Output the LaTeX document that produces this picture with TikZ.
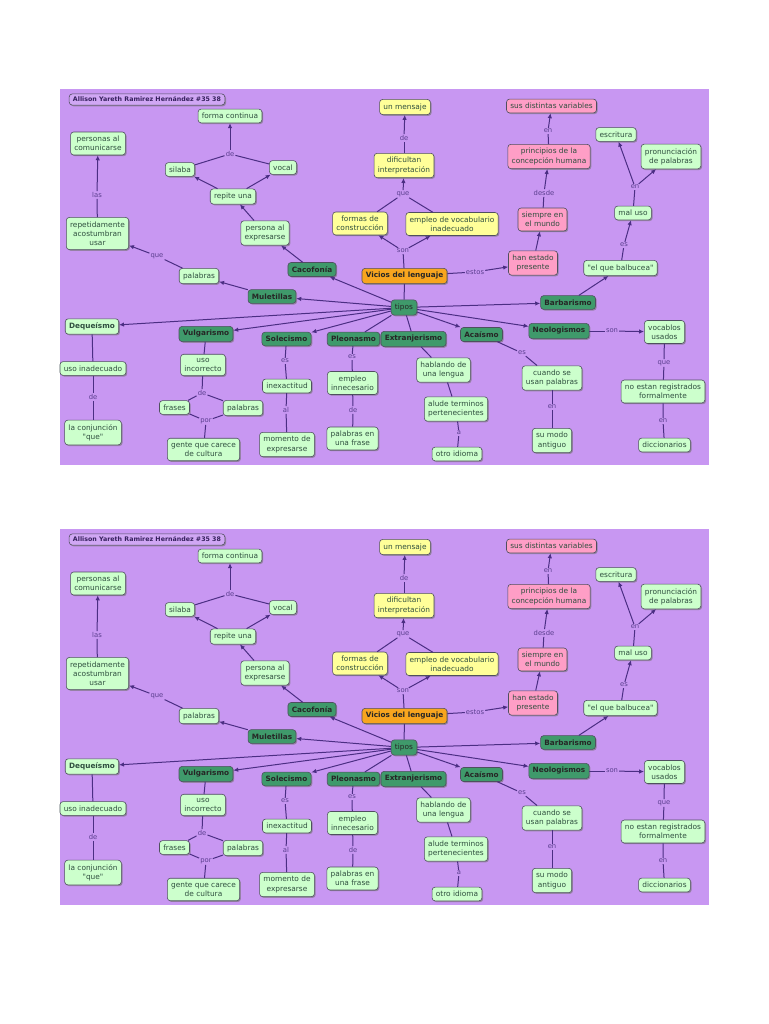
\documentclass[tikz,border=0pt]{standalone}
\usepackage{xcolor}
\usepackage{fontspec}
\usepackage{tikz}
\usetikzlibrary{arrows.meta,shadows}
\newfontfamily\vlsans{DejaVu Sans}
\newcommand\vltext{\vlsans\fontsize{7.4}{9.2}\selectfont}
\newcommand\vlbold{\vlsans\bfseries\fontsize{7.3}{9.2}\selectfont}
\newcommand\vlsmall{\vlsans\fontsize{6.8}{8}\selectfont}
\newcommand\vltitle{\vlsans\bfseries\fontsize{6.3}{8}\selectfont}
\definecolor{VLPurple}{HTML}{C897F2}
\definecolor{VLLine}{HTML}{4B2E83}
\definecolor{VLGreen}{HTML}{CCFFCC}
\definecolor{VLDark}{HTML}{3F9A6B}
\definecolor{VLOrange}{HTML}{F8A51E}
\definecolor{VLYellow}{HTML}{FFFF99}
\definecolor{VLPink}{HTML}{FF9EC6}
\definecolor{VLBorder}{HTML}{4F4F5F}
\definecolor{VLText}{HTML}{2F4F3F}
\definecolor{VLLink}{HTML}{5B3F8F}

\begin{document}
\begin{tikzpicture}[x=1pt,y=-1pt,
  concept/.style={draw=VLBorder,line width=0.6pt,rounded corners=3pt,fill=VLGreen,
    font=\vltext,text=VLText,align=center,inner xsep=3.8pt,inner ysep=4pt,
    drop shadow={shadow xshift=1.2pt,shadow yshift=-1.2pt,fill=black!55,opacity=0.6}},
  kindbox/.style={concept,fill=VLDark,font=\vlbold,text=black!85},
  rootbox/.style={concept,fill=VLOrange,font=\vlbold,text=black!85},
  yellowbox/.style={concept,fill=VLYellow},
  pinkbox/.style={concept,fill=VLPink},
  titlebox/.style={concept,fill=VLPurple!85!white,font=\vltitle,text=VLLine!70!black,inner ysep=3pt},
  linkword/.style={font=\vlsmall,text=VLLink,inner sep=1pt},
  link/.style={draw=VLLine,line width=1pt},
  linkarrow/.style={link,-{Latex[length=5pt,width=4.5pt]}}]
\path[use as bounding box] (0,0) rectangle (768,1024);
\foreach \dy in {0,440}{
\begin{scope}[shift={(0,\dy)}]
\fill[VLPurple] (60,89) rectangle (709,465);
% title
\node[titlebox] (title) at (147,99.5) {Allison Yareth Ramirez Hernández \#35 38};
% centre
\node[rootbox] (vicios) at (404.5,276) {Vicios del lenguaje};
\node[kindbox,font=\vltext] (tipos) at (404,307.5) {tipos};
\node[kindbox] (cacofonia) at (312,269.5) {Cacofonía};
\node[kindbox] (muletillas) at (272,296.5) {Muletillas};
\node[concept,font=\vlbold] (dequeismo) at (92,326.5) {Dequeísmo};
\node[kindbox] (vulgarismo) at (206,334) {Vulgarismo};
\node[kindbox] (solecismo) at (286.5,339) {Solecismo};
\node[kindbox] (pleonasmo) at (353.5,339) {Pleonasmo};
\node[kindbox] (extranjerismo) at (413.5,339) {Extranjerismo};
\node[kindbox] (acaismo) at (481.5,334.5) {Acaísmo};
\node[kindbox] (neologismos) at (559,331) {Neologismos};
\node[kindbox] (barbarismo) at (568,302.5) {Barbarismo};
% upper left
\node[concept] (forma) at (230,116) {forma continua};
\node[concept] (personas) at (98,143.5) {personas al\\comunicarse};
\node[concept] (silaba) at (180,169.5) {silaba};
\node[concept] (vocal) at (283,167.5) {vocal};
\node[linkword] (deA) at (230,154) {de};
\node[concept] (repite) at (233,196.5) {repite una};
\node[concept] (persona) at (265,233) {persona al\\expresarse};
\node[concept] (palabrasA) at (199,276) {palabras};
\node[concept] (repetidamente) at (97.5,233.5) {repetidamente\\acostumbran\\usar};
\node[linkword] (queA) at (157,256) {que};
\node[linkword] (lasA) at (97,195) {las};
% upper middle
\node[linkword] (sonA) at (403,251) {son};
\node[yellowbox] (formas) at (360,223.5) {formas de\\construcción};
\node[yellowbox] (empleoV) at (452,224) {empleo de vocabulario\\inadecuado};
\node[linkword] (queB) at (403,194) {que};
\node[yellowbox] (dificultan) at (404,165.5) {dificultan\\interpretación};
\node[linkword] (deB) at (404,138) {de};
\node[yellowbox] (mensaje) at (405,107) {un mensaje};
% upper right
\node[linkword] (estos) at (475,272) {estos};
\node[pinkbox] (han) at (533,263) {han estado\\presente};
\node[pinkbox] (siempre) at (542.5,219.5) {siempre en\\el mundo};
\node[linkword] (desde) at (544,193) {desde};
\node[pinkbox] (principios) at (549,156.5) {principios de la\\concepción humana};
\node[linkword] (enA) at (548,131) {en};
\node[pinkbox] (sus) at (551.5,106) {sus distintas variables};
\node[concept] (escritura) at (616,134.5) {escritura};
\node[concept] (pronunciacion) at (671,156.5) {pronunciación\\de palabras};
\node[linkword] (enB) at (635,187) {en};
\node[concept] (maluso) at (633,213) {mal uso};
\node[linkword] (esA) at (624,245) {es};
\node[concept] (balbucea) at (620.5,268) {"el que balbucea"};
% lower right
\node[linkword] (sonB) at (612,331) {son};
\node[concept] (vocablos) at (664.5,332) {vocablos\\usados};
\node[linkword] (queC) at (664,363) {que};
\node[concept] (noestan) at (663,391.5) {no estan registrados\\formalmente};
\node[linkword] (enC) at (663,421) {en};
\node[concept] (diccionarios) at (664.5,445) {diccionarios};
\node[linkword] (esB) at (522,353) {es};
\node[concept] (cuando) at (552,378) {cuando se\\usan palabras};
\node[linkword] (enD) at (552,407) {en};
\node[concept] (sumodo) at (552,440.5) {su modo\\antiguo};
% lower middle
\node[concept] (hablando) at (443.5,370) {hablando de\\una lengua};
\node[concept] (alude) at (456,409) {alude terminos\\pertenecientes};
\node[linkword] (aLbl) at (459,433) {a};
\node[concept] (otro) at (457,454) {otro idioma};
\node[linkword] (esC) at (352,357) {es};
\node[concept] (empleoI) at (352.5,383) {empleo\\innecesario};
\node[linkword] (deC) at (353,410) {de};
\node[concept] (palabrasF) at (352.5,438.5) {palabras en\\una frase};
\node[linkword] (esD) at (285,361) {es};
\node[concept] (inexactitud) at (287,386) {inexactitud};
\node[linkword] (alLbl) at (286,410) {al};
\node[concept] (momento) at (287,444.5) {momento de\\expresarse};
% lower left
\node[concept] (usoinc) at (203,365) {uso\\incorrecto};
\node[linkword] (deD) at (202,393) {de};
\node[concept] (frases) at (174.5,407.5) {frases};
\node[concept] (palabrasV) at (243,408) {palabras};
\node[linkword] (por) at (206,421) {por};
\node[concept] (gente) at (203.5,449.5) {gente que carece\\de cultura};
\node[concept] (usoinad) at (93,368.5) {uso inadecuado};
\node[linkword] (deE) at (93,397) {de};
\node[concept] (conjuncion) at (93,432.5) {la conjunción\\"que"};
% links
\draw[link] (vicios) -- (tipos);
\foreach \k in {cacofonia,muletillas,dequeismo,vulgarismo,solecismo,acaismo,neologismos,barbarismo}
  \draw[linkarrow] (tipos) -- (\k);
\draw[link] (tipos) -- (pleonasmo);
\draw[link] (tipos) -- (extranjerismo);
\draw[linkarrow] (repite) -- (silaba);
\draw[linkarrow] (repite) -- (vocal);
\draw[link] (silaba) -- (deA);
\draw[link] (vocal) -- (deA);
\draw[linkarrow] (deA) -- (forma);
\draw[linkarrow] (persona) -- (repite);
\draw[linkarrow] (cacofonia) -- (persona);
\draw[linkarrow] (muletillas) -- (palabrasA);
\draw[link] (palabrasA) -- (queA);
\draw[linkarrow] (queA) -- (repetidamente);
\draw[link] (repetidamente) -- (lasA);
\draw[linkarrow] (lasA) -- (personas);
\draw[link] (vicios) -- (sonA);
\draw[linkarrow] (sonA) -- (formas);
\draw[linkarrow] (sonA) -- (empleoV);
\draw[link] (formas) -- (queB);
\draw[link] (empleoV) -- (queB);
\draw[linkarrow] (queB) -- (dificultan);
\draw[link] (dificultan) -- (deB);
\draw[linkarrow] (deB) -- (mensaje);
\draw[link] (vicios) -- (estos);
\draw[linkarrow] (estos) -- (han);
\draw[linkarrow] (han) -- (siempre);
\draw[link] (siempre) -- (desde);
\draw[linkarrow] (desde) -- (principios);
\draw[link] (principios) -- (enA);
\draw[linkarrow] (enA) -- (sus);
\draw[linkarrow] (barbarismo) -- (balbucea);
\draw[link] (balbucea) -- (esA);
\draw[linkarrow] (esA) -- (maluso);
\draw[link] (maluso) -- (enB);
\draw[linkarrow] (enB) -- (escritura);
\draw[linkarrow] (enB) -- (pronunciacion);
\draw[link] (neologismos) -- (sonB);
\draw[linkarrow] (sonB) -- (vocablos);
\draw[link] (vocablos) -- (queC) -- (noestan);
\draw[link] (noestan) -- (enC) -- (diccionarios);
\draw[link] (acaismo) -- (esB) -- (cuando);
\draw[link] (cuando) -- (enD) -- (sumodo);
\draw[link] (extranjerismo) -- (hablando);
\draw[link] (hablando) -- (alude);
\draw[link] (alude) -- (aLbl) -- (otro);
\draw[link] (pleonasmo) -- (esC) -- (empleoI);
\draw[link] (empleoI) -- (deC) -- (palabrasF);
\draw[link] (solecismo) -- (esD) -- (inexactitud);
\draw[link] (inexactitud) -- (alLbl) -- (momento);
\draw[link] (vulgarismo) -- (usoinc);
\draw[link] (usoinc) -- (deD);
\draw[link] (deD) -- (frases);
\draw[link] (deD) -- (palabrasV);
\draw[link] (frases) -- (por);
\draw[link] (palabrasV) -- (por);
\draw[link] (por) -- (gente);
\draw[link] (dequeismo) -- (usoinad);
\draw[link] (usoinad) -- (deE) -- (conjuncion);
\end{scope}
}
\end{tikzpicture}
\end{document}
